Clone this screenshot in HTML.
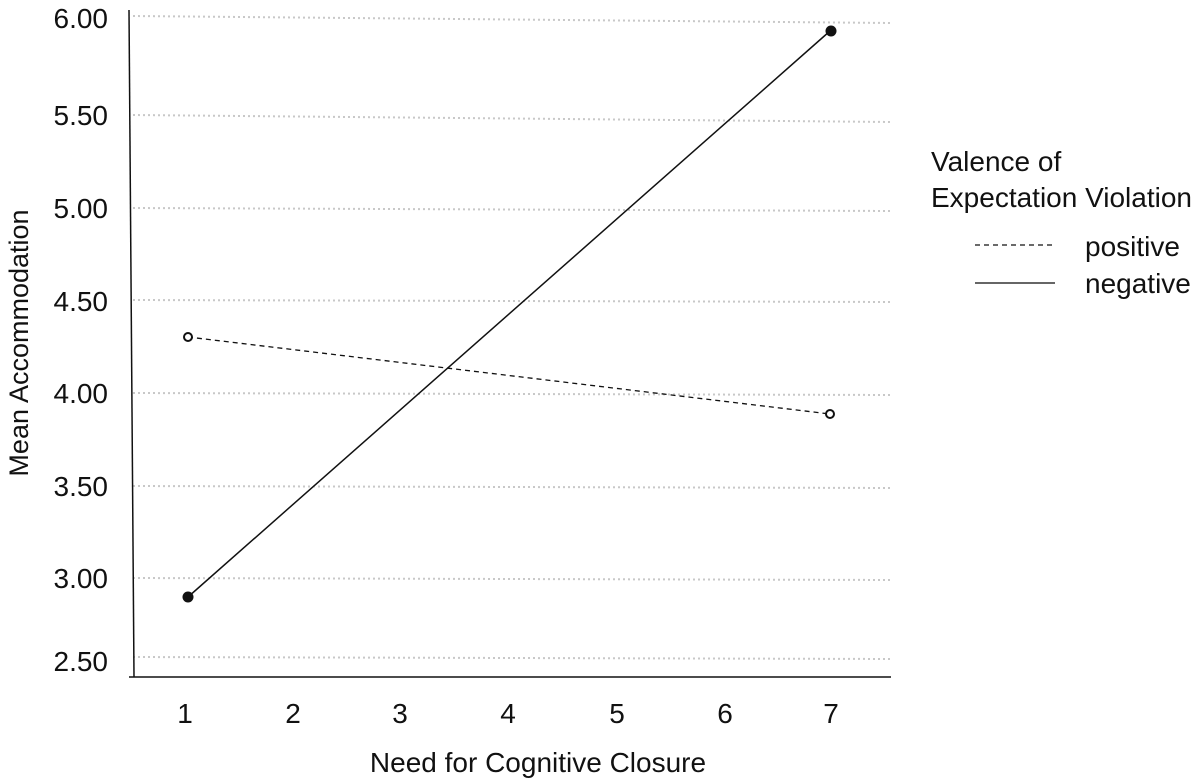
<!DOCTYPE html>
<html><head><meta charset="utf-8"><style>body{margin:0;background:#fff}svg{display:block}text{font-family:"Liberation Sans",sans-serif;fill:#111}</style></head>
<body>
<svg width="1200" height="783" viewBox="0 0 1200 783">
<g stroke="#c8c8c8" stroke-width="2" stroke-dasharray="2 3">
<line x1="133" y1="16" x2="890" y2="23"/>
<line x1="133" y1="115" x2="890" y2="122"/>
<line x1="133" y1="208" x2="890" y2="211"/>
<line x1="133" y1="300" x2="890" y2="302"/>
<line x1="133" y1="393" x2="890" y2="395"/>
<line x1="133" y1="486" x2="890" y2="488"/>
<line x1="133" y1="578" x2="890" y2="580"/>
<line x1="133" y1="657" x2="890" y2="659"/>
</g>
<line x1="129" y1="10" x2="134" y2="677" stroke="#111" stroke-width="1.5"/>
<line x1="129" y1="677" x2="891" y2="677" stroke="#111" stroke-width="1.5"/>
<g font-size="28" text-anchor="end">
<text x="108" y="28">6.00</text>
<text x="108" y="125">5.50</text>
<text x="108" y="218">5.00</text>
<text x="108" y="311">4.50</text>
<text x="108" y="403">4.00</text>
<text x="108" y="496">3.50</text>
<text x="108" y="588">3.00</text>
<text x="108" y="671">2.50</text>
</g>
<g font-size="28" text-anchor="middle">
<text x="185" y="723">1</text><text x="293" y="723">2</text><text x="400" y="723">3</text><text x="508" y="723">4</text><text x="617" y="723">5</text><text x="725" y="723">6</text><text x="831" y="723">7</text>
</g>
<text x="538" y="772" font-size="28" text-anchor="middle">Need for Cognitive Closure</text>
<text transform="translate(28,343) rotate(-90)" font-size="27" text-anchor="middle">Mean Accommodation</text>
<line x1="188" y1="337" x2="830" y2="414" stroke="#111" stroke-width="1.3" stroke-dasharray="5 4"/>
<line x1="188" y1="597" x2="830" y2="31" stroke="#111" stroke-width="1.5"/>
<circle cx="188" cy="337" r="4" fill="#fff" stroke="#111" stroke-width="2"/>
<circle cx="830" cy="414" r="4" fill="#fff" stroke="#111" stroke-width="2"/>
<circle cx="188" cy="597" r="5.5" fill="#111"/>
<circle cx="831" cy="31" r="5.5" fill="#111"/>
<text x="931" y="171" font-size="28">Valence of</text>
<text x="931" y="207" font-size="28">Expectation Violation</text>
<line x1="975" y1="245" x2="1055" y2="245" stroke="#111" stroke-width="1.3" stroke-dasharray="5 4"/>
<line x1="975" y1="283" x2="1055" y2="283" stroke="#333" stroke-width="1.5"/>
<text x="1085" y="256" font-size="28">positive</text>
<text x="1085" y="293" font-size="28">negative</text>
</svg>
</body></html>
